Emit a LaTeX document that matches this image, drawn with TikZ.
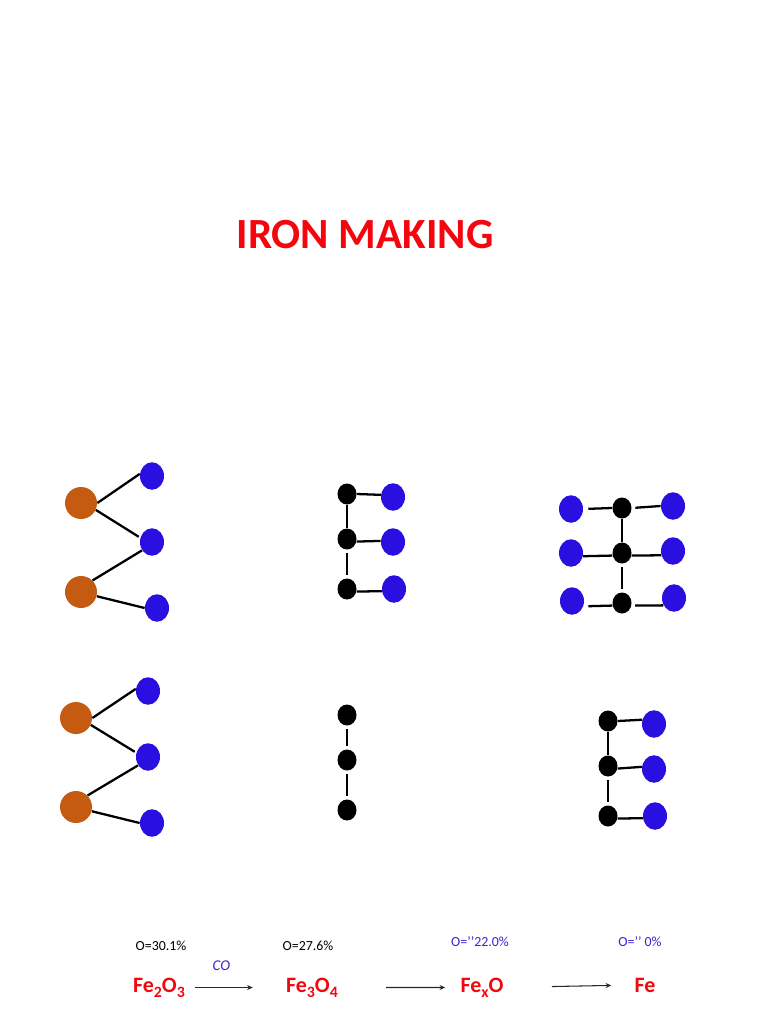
\documentclass[tikz,border=0pt]{standalone}
\usepackage{fontspec}
\setmainfont{Carlito}
\usepackage{xcolor}
\usetikzlibrary{arrows.meta,shapes.geometric}
\definecolor{ironred}{HTML}{F5060F}
\definecolor{oxblue}{HTML}{2A10E0}
\definecolor{feorange}{HTML}{C55A11}
\definecolor{noteblue}{HTML}{3A22CC}
\newcommand{\chemsub}[1]{\raisebox{-0.5ex}{\fontsize{9}{9}\selectfont #1}}
\tikzset{
  featom/.style={circle,fill=feorange,draw=none,minimum size=0.64cm,inner sep=0pt},
  oxatom/.style={ellipse,fill=oxblue,draw=none,minimum width=0.48cm,minimum height=0.55cm,inner sep=0pt},
  coreatom/.style={ellipse,fill=black,draw=none,minimum width=0.38cm,minimum height=0.42cm,inner sep=0pt},
  bond/.style={line width=1.3pt,black},
  formula/.style={text=ironred,font=\fontsize{12.5}{14}\selectfont\bfseries,inner sep=0pt},
  oxnote/.style={font=\fontsize{7.9}{9}\selectfont,inner sep=0pt},
  step arrow/.style={-{Stealth[length=3.2pt,width=2.8pt]},line width=0.6pt,black!85}
}
\begin{document}
\begin{tikzpicture}[x=0.02cm,y=-0.02cm]
\useasboundingbox (0,0) rectangle (768,1024);

\node[text=ironred,font=\fontsize{24.5}{28}\selectfont\bfseries,inner sep=0pt] (title) at (365,235) {IRON MAKING};

\node[featom] (A1) at (81,503) {};
\node[featom] (A2) at (81,592) {};
\node[oxatom] (O1) at (152,476) {};
\node[oxatom] (O2) at (152,542) {};
\node[oxatom] (O3) at (157,608) {};
\path (A1.0) edge [bond] (O1.170);
\path (A1.-25) edge [bond,shorten >=1pt] (O2.160);
\path (A2.45) edge [bond] (O2.220);
\path (A2.-15) edge [bond] (O3.180);

\node[coreatom] (B1) at (347,494) {};
\node[coreatom] (B2) at (347,539) {};
\node[coreatom] (B3) at (347,589) {};
\node[oxatom] (P1) at (393,497) {};
\node[oxatom] (P2) at (393,542) {};
\node[oxatom] (P3) at (394,589) {};
\path (B1) edge [bond] (B2);
\path (B2) edge [bond,shorten <=2pt,shorten >=2pt] (B3);
\path (B1.east) edge [bond] (P1.170);
\path (B2.-15) edge [bond] (P2.175);
\path (B3.-15) edge [bond] (P3.190);

\node[coreatom] (C1) at (622,508) {};
\node[coreatom] (C2) at (622,553) {};
\node[coreatom] (C3) at (622,603) {};
\node[oxatom] (Q1) at (571,509) {};
\node[oxatom] (Q2) at (571,553) {};
\node[oxatom] (Q3) at (572,601) {};
\node[oxatom] (R1) at (673,506) {};
\node[oxatom] (R2) at (673,551) {};
\node[oxatom] (R3) at (674,598) {};
\path (C1) edge [bond] (C2);
\path (C2) edge [bond,shorten <=2pt,shorten >=2pt] (C3);
\path (C1.west) edge [bond,shorten >=2.8pt] (Q1.east);
\path (C2.195) edge [bond] (Q2.-15);
\path (C3.195) edge [bond,shorten >=2.8pt] (Q3.-25);
\path (C1.east) edge [bond,shorten <=2pt] (R1.west);
\path (C2.-15) edge [bond] (R2.200);
\path (C3.-15) edge [bond,shorten <=2pt] (R3.215);

\node[featom] (D1) at (76,718) {};
\node[featom] (D2) at (76,807) {};
\node[oxatom] (S1) at (148,691) {};
\node[oxatom] (S2) at (148,757) {};
\node[oxatom] (S3) at (152,823) {};
\path (D1.0) edge [bond] (S1.170);
\path (D1.-25) edge [bond,shorten >=1pt] (S2.160);
\path (D2.45) edge [bond] (S2.220);
\path (D2.-15) edge [bond] (S3.180);

\node[coreatom] (E1) at (347,715) {};
\node[coreatom] (E2) at (347,760) {};
\node[coreatom] (E3) at (347,810) {};
\path (E1) edge [bond,shorten <=2pt,shorten >=2pt] (E2);
\path (E2) edge [bond,shorten <=2pt,shorten >=2pt] (E3);

\node[coreatom] (G1) at (608,721) {};
\node[coreatom] (G2) at (608,766) {};
\node[coreatom] (G3) at (608,816) {};
\node[oxatom] (T1) at (654,724) {};
\node[oxatom] (T2) at (654,769) {};
\node[oxatom] (T3) at (655,816) {};
\path (G1) edge [bond] (G2);
\path (G2) edge [bond,shorten <=2pt,shorten >=2pt] (G3);
\path (G1.east) edge [bond] (T1.160);
\path (G2.-15) edge [bond] (T2.170);
\path (G3.-15) edge [bond] (T3.190);

\node[oxnote] (n1) at (161,946) {O=30.1\%};
\node[oxnote] (n2) at (308,946) {O=27.6\%};
\node[oxnote,text=noteblue] (n3) at (480,942) {O=’’22.0\%};
\node[oxnote,text=noteblue] (n4) at (640,942) {O=’’ 0\%};

\node[formula,anchor=base] (F1) at (159,992) {Fe\chemsub{2}O\chemsub{3}};
\node[formula,anchor=base] (F2) at (312,992) {Fe\chemsub{3}O\chemsub{4}};
\node[formula,anchor=base] (F3) at (482,992) {Fe\chemsub{x}O};
\node[formula,anchor=base] (F4) at (645,992) {Fe};

\path (F1.east) edge [step arrow,shorten <=0.2cm,shorten >=0.66cm] node [pos=0.36,above=9.5pt,text=noteblue,font=\fontsize{8.5}{9}\selectfont\itshape,inner sep=0pt] (co) {CO} (F2.west);
\path (F2.east) edge [step arrow,shorten <=0.96cm,shorten >=0.3cm] (F3.west);
\path (F3.east) edge [step arrow,shorten <=0.96cm,shorten >=0.46cm] (F4.west);

\end{tikzpicture}
\end{document}
